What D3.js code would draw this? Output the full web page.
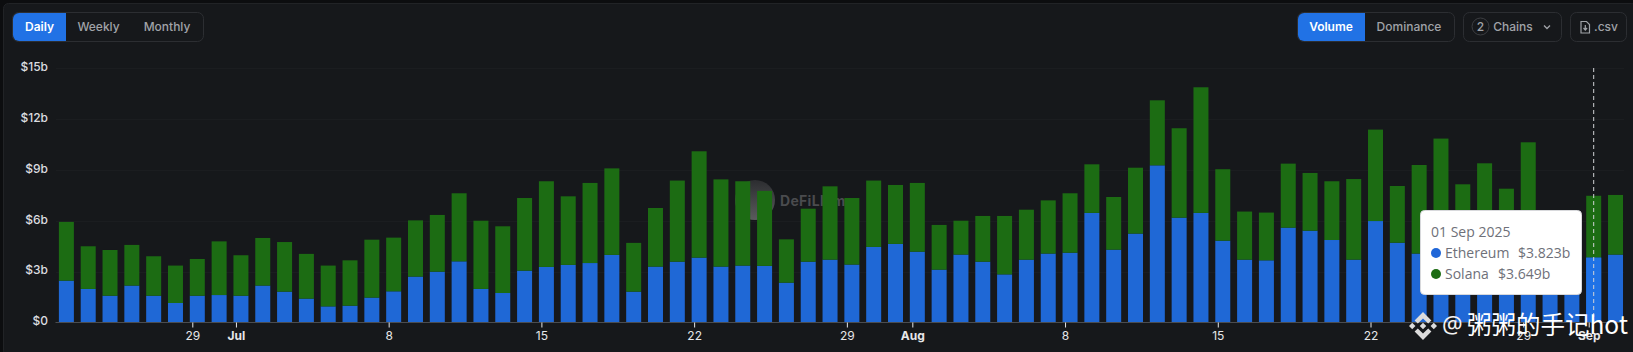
<!DOCTYPE html>
<html>
<head>
<meta charset="utf-8">
<script src="https://cdn.jsdelivr.net/npm/d3@7"></script>
<style>
  html, body { margin: 0; padding: 0; background: #0c0d0f; overflow: hidden; }
  svg { display: block; font-family: Inter, "Noto Sans", sans-serif; }
</style>
</head>
<body>
<div class="canvas"></div>
<script>
// data, values in $b
const dates = [
  '2025-06-23','2025-06-24','2025-06-25','2025-06-26','2025-06-27','2025-06-28','2025-06-29','2025-06-30',
  '2025-07-01','2025-07-02','2025-07-03','2025-07-04','2025-07-05','2025-07-06','2025-07-07','2025-07-08',
  '2025-07-09','2025-07-10','2025-07-11','2025-07-12','2025-07-13','2025-07-14','2025-07-15','2025-07-16',
  '2025-07-17','2025-07-18','2025-07-19','2025-07-20','2025-07-21','2025-07-22','2025-07-23','2025-07-24',
  '2025-07-25','2025-07-26','2025-07-27','2025-07-28','2025-07-29','2025-07-30','2025-07-31','2025-08-01',
  '2025-08-02','2025-08-03','2025-08-04','2025-08-05','2025-08-06','2025-08-07','2025-08-08','2025-08-09',
  '2025-08-10','2025-08-11','2025-08-12','2025-08-13','2025-08-14','2025-08-15','2025-08-16','2025-08-17',
  '2025-08-18','2025-08-19','2025-08-20','2025-08-21','2025-08-22','2025-08-23','2025-08-24','2025-08-25',
  '2025-08-26','2025-08-27','2025-08-28','2025-08-29','2025-08-30','2025-08-31','2025-09-01','2025-09-02'
];
const ethereum = [
  2.46,1.97,1.57,2.17,1.57,1.14,1.57,1.61,
  1.57,2.17,1.81,1.40,0.94,0.98,1.46,1.83,
  2.70,2.99,3.60,1.97,1.73,3.05,3.27,3.39,
  3.50,3.98,1.81,3.29,3.58,3.82,3.29,3.35,
  3.33,2.34,3.58,3.70,3.41,4.45,4.63,4.17,
  3.11,4.00,3.58,2.83,3.70,4.06,4.11,6.46,
  4.29,5.24,9.27,6.18,6.46,4.82,3.70,3.66,
  5.59,5.41,4.86,3.70,5.98,4.70,4.06,4.50,
  3.90,4.00,3.50,4.20,3.30,3.20,3.823,4.00
];
const solana = [
  3.47,2.52,2.70,2.40,2.33,2.21,2.17,3.17,
  2.39,2.81,2.93,2.64,2.41,2.68,3.42,3.17,
  3.32,3.35,4.02,4.03,3.94,4.29,5.06,4.05,
  4.73,5.11,2.88,3.46,4.79,6.28,5.15,4.98,
  4.43,2.56,3.13,4.33,3.93,3.92,3.48,4.06,
  2.64,2.00,2.70,3.45,2.95,3.14,3.51,2.87,
  3.11,3.89,3.84,5.28,7.42,4.22,2.84,2.82,
  3.78,3.41,3.47,4.76,5.40,3.35,5.23,6.35,
  4.25,5.39,4.39,6.43,3.25,3.30,3.649,3.52
];
const yTicks = [0, 3, 6, 9, 12, 15];
const yTickLabels = ['$0', '$3b', '$6b', '$9b', '$12b', '$15b'];
const xTicks = ['2025-06-29','2025-07-01','2025-07-08','2025-07-15','2025-07-22','2025-07-29',
  '2025-08-01','2025-08-08','2025-08-15','2025-08-22','2025-08-29','2025-09-01'];
const xTickLabels = ['29','Jul','8','15','22','29','Aug','8','15','22','29','Sep'];
const hoverDate = '2025-09-01';
const tooltipLines = [
  { name: 'Ethereum', value: '$3.823b', color: '#1f66d8' },
  { name: 'Solana', value: '$3.649b', color: '#1c6c13' }
];

const width = 1633, height = 352;
const parse = d3.utcParse('%Y-%m-%d');

const svg = d3.select('.canvas').append('svg')
  .attr('width', width)
  .attr('height', height);

// card behind everything
svg.append('rect')
  .attr('x', 3.5).attr('y', 3.5)
  .attr('width', width).attr('height', height)
  .attr('rx', 5)
  .attr('fill', '#16181b')
  .attr('stroke', '#212326');

// scales
const y = d3.scaleLinear().domain([0, 15]).range([322.3, 68.3]);
const x = d3.scaleUtc()
  .domain([parse('2025-06-29'), parse('2025-09-01')])
  .range([192.3, 1588.7]);
const barOffset = 5; // bars sit a bit right of their tick
const barWidth = 15;

// gridlines
svg.append('g').selectAll('line')
  .data(yTicks.filter(d => d > 0))
  .join('line')
  .attr('x1', 56).attr('x2', 1624)
  .attr('y1', d => Math.round(y(d)) + 0.5)
  .attr('y2', d => Math.round(y(d)) + 0.5)
  .attr('stroke', '#1b1d20');

// DeFiLlama watermark, sits under the bars
const grad = svg.append('defs').append('linearGradient')
  .attr('id', 'llama').attr('x1', 0).attr('y1', 0).attr('x2', 0).attr('y2', 1);
grad.append('stop').attr('offset', '0%').attr('stop-color', '#2c2d30');
grad.append('stop').attr('offset', '100%').attr('stop-color', '#5a5b5d');
const mark = svg.append('g');
mark.append('circle')
  .attr('cx', 755).attr('cy', 200).attr('r', 20)
  .attr('fill', 'url(#llama)');
mark.append('text')
  .attr('x', 780).attr('y', 205.5)
  .attr('font-size', 14).attr('font-weight', 700)
  .attr('letter-spacing', 0.3)
  .attr('fill', '#4a4b4e')
  .text('DeFiLlama');

// stacked bars
const rows = dates.map((d, i) => ({ date: d, ethereum: ethereum[i], solana: solana[i] }));
const stack = d3.stack().keys(['ethereum', 'solana'])(rows);
const colors = { ethereum: '#1f68d6', solana: '#1c6c13' };

svg.append('g').selectAll('g')
  .data(stack)
  .join('g')
  .attr('fill', d => colors[d.key])
  .selectAll('rect')
  .data(d => d)
  .join('rect')
  .attr('x', d => x(parse(d.data.date)) + barOffset - barWidth / 2)
  .attr('width', barWidth)
  .attr('y', d => y(d[1]))
  .attr('height', d => y(d[0]) - y(d[1]));

// hovered bar gets a brighter blue
svg.append('g').selectAll('rect')
  .data(rows.filter(d => d.date === hoverDate))
  .join('rect')
  .attr('x', d => x(parse(d.date)) + barOffset - barWidth / 2)
  .attr('width', barWidth)
  .attr('y', d => y(d.ethereum))
  .attr('height', d => y(0) - y(d.ethereum))
  .attr('fill', '#1f72e6');

// y axis
const yAxis = d3.axisLeft(y)
  .tickValues(yTicks)
  .tickSize(0)
  .tickFormat((d, i) => yTickLabels[i]);
const yAxisGroup = svg.append('g')
  .attr('transform', 'translate(48,0)')
  .call(yAxis);
yAxisGroup.select('.domain').remove();
yAxisGroup.selectAll('text')
  .attr('x', 0)
  .attr('dy', '0.2em')
  .attr('font-family', 'Inter, sans-serif')
  .attr('font-size', 12)
  .attr('font-weight', 500)
  .attr('fill', '#dcdde0');

// x axis
const xAxis = d3.axisBottom(x)
  .tickValues(xTicks.map(parse))
  .tickSize(5)
  .tickSizeOuter(0)
  .tickFormat((d, i) => xTickLabels[i]);
const xAxisGroup = svg.append('g')
  .attr('transform', 'translate(0,322.5)')
  .call(xAxis);
xAxisGroup.select('.domain')
  .attr('d', 'M55.5,0H1624')
  .attr('stroke', '#4a4c50');
xAxisGroup.selectAll('line').attr('stroke', '#e6e7e9');
xAxisGroup.selectAll('text')
  .attr('y', 9)
  .attr('font-family', 'Inter, sans-serif')
  .attr('font-size', 12)
  .attr('font-weight', (d, i) => (/[A-Z]/.test(xTickLabels[i]) ? 700 : 400))
  .attr('fill', '#e6e7e9');

// hover line
svg.append('line')
  .attr('x1', x(parse(hoverDate)) + barOffset).attr('x2', x(parse(hoverDate)) + barOffset)
  .attr('y1', 68).attr('y2', 322)
  .attr('stroke', '#d0d2d6')
  .attr('stroke-dasharray', '4 3');

// tooltip
const tip = svg.append('g').attr('font-family', '"Open Sans", sans-serif').attr('font-size', 14).attr('fill', '#6e7079');
tip.append('rect')
  .attr('x', 1420.5).attr('y', 210.5)
  .attr('width', 161).attr('height', 84)
  .attr('rx', 4)
  .attr('fill', '#ffffff')
  .attr('stroke', '#d8d9dc');
tip.append('text').attr('x', 1431).attr('y', 237).text('01 Sep 2025');
tooltipLines.forEach((d, i) => {
  const rowY = 258 + i * 21;
  tip.append('circle').attr('cx', 1436).attr('cy', rowY - 5).attr('r', 5).attr('fill', d.color);
  tip.append('text').attr('x', 1445).attr('y', rowY).text(d.name);
  tip.append('text').attr('x', i === 0 ? 1518 : 1498).attr('y', rowY).text(d.value);
});

// top controls
function button(x0, x1, label, cx, active) {
  if (active) {
    svg.append('path')
      .attr('d', `M${x1},13V41H${x0 + 6}a6,6 0 0 1 -6,-6V19a6,6 0 0 1 6,-6Z`)
      .attr('fill', '#2172e5');
  }
  svg.append('text')
    .attr('x', cx).attr('y', 30.5)
    .attr('text-anchor', 'middle')
    .attr('font-size', 12)
    .attr('font-weight', active ? 600 : 500)
    .attr('fill', active ? '#ffffff' : '#a0a3a8')
    .text(label);
}
function box(x0, x1) {
  svg.append('rect')
    .attr('x', x0).attr('y', 12.5)
    .attr('width', x1 - x0).attr('height', 29)
    .attr('rx', 6)
    .attr('fill', 'none')
    .attr('stroke', '#2c2e32');
}
box(12.5, 203.5);
button(13, 66, 'Daily', 39.5, true);
button(66, 130, 'Weekly', 98.5, false);
button(130, 203, 'Monthly', 167, false);

box(1297.5, 1454.5);
button(1298, 1365, 'Volume', 1331, true);
button(1365, 1454, 'Dominance', 1409, false);

box(1463.5, 1561.5);
svg.append('circle').attr('cx', 1480.5).attr('cy', 26.5).attr('r', 8.5)
  .attr('fill', 'none').attr('stroke', '#3c3e42');
button(1472, 1489, '2', 1480.5, false);
button(1490, 1540, 'Chains', 1513, false);
svg.append('path')
  .attr('d', 'M1544,25.5l3,3l3,-3')
  .attr('fill', 'none').attr('stroke', '#a0a3a8').attr('stroke-width', 1.3);

box(1570.5, 1626.5);
svg.append('path')
  .attr('d', 'M1581,21.5h5.5l3,3v8.5h-8.5ZM1585.3,25v4.5M1583.5,28l1.8,2l1.8,-2')
  .attr('fill', 'none').attr('stroke', '#a0a3a8').attr('stroke-width', 1.2);
button(1592, 1624, '.csv', 1606, false);

// binance square watermark on top of the screenshot
const wm = svg.append('g')
  .attr('transform', 'translate(1423,326) scale(14)')
  .attr('fill', '#dcdcdc');
wm.append('path').attr('d', 'M0,-1L.6,-.4L.37,-.17L0,-.54L-.37,-.17L-.6,-.4Z');
wm.append('path').attr('d', 'M0,1L.6,.4L.37,.17L0,.54L-.37,.17L-.6,.4Z');
[[-.77, 0], [0, 0], [.77, 0]].forEach(p => {
  wm.append('path').attr('d', `M${p[0]},-.23L${p[0] + .23},0L${p[0]},.23L${p[0] - .23},0Z`);
});
svg.append('text')
  .attr('x', 1442).attr('y', 333)
  .attr('font-family', '"Noto Sans", sans-serif')
  .attr('font-size', 23)
  .attr('fill', '#f2f2f2')
  .text('@');
svg.append('text')
  .attr('x', 1467).attr('y', 334)
  .attr('font-family', '"Noto Sans CJK SC", sans-serif')
  .attr('font-size', 24.5)
  .attr('fill', '#ffffff')
  .text('粥粥的手记hot');
</script>
</body>
</html>
